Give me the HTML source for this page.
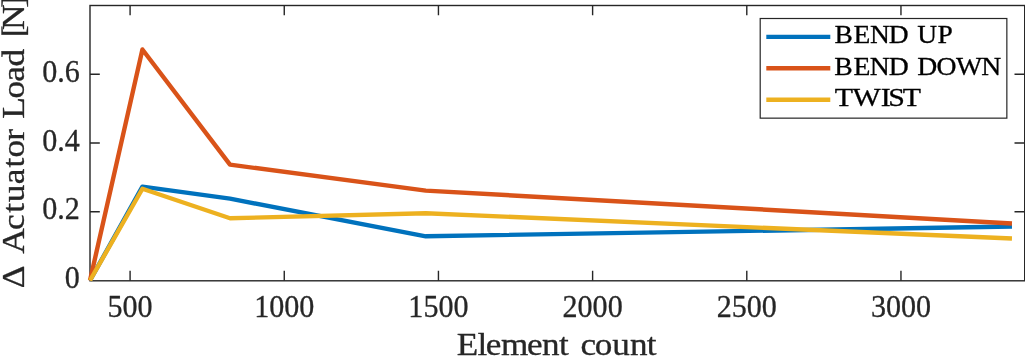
<!DOCTYPE html>
<html><head><meta charset="utf-8"><title>Element count vs Actuator Load</title>
<style>
html,body{margin:0;padding:0;background:#fff;}
svg{display:block}
text{font-family:"Liberation Serif",serif;white-space:pre;stroke-width:0.3px;paint-order:stroke fill;stroke-linejoin:round}
</style></head><body>
<svg width="1025" height="356" viewBox="0 0 1025 356">
<rect width="1025" height="356" fill="#fff"/>
<g stroke="#262626" stroke-width="1.4" fill="none" stroke-linecap="butt">
<rect x="90.0" y="5.5" width="934.7" height="275.3"/>
<path d="M130.09 280.8 V270.7 M130.09 5.5 V15.3"/>
<path d="M284.26 280.8 V270.7 M284.26 5.5 V15.3"/>
<path d="M438.44 280.8 V270.7 M438.44 5.5 V15.3"/>
<path d="M592.61 280.8 V270.7 M592.61 5.5 V15.3"/>
<path d="M746.79 280.8 V270.7 M746.79 5.5 V15.3"/>
<path d="M900.96 280.8 V270.7 M900.96 5.5 V15.3"/>
<path d="M90.0 211.75 H99.8 M1024.7 211.75 H1014.5"/>
<path d="M90.0 143.00 H99.8 M1024.7 143.00 H1014.5"/>
<path d="M90.0 74.25 H99.8 M1024.7 74.25 H1014.5"/>
</g>
<g fill="#262626" stroke="#262626" font-size="32">
<text transform="translate(130.09,316.6) scale(0.94,1)" text-anchor="middle">500</text>
<text transform="translate(284.26,316.6) scale(0.94,1)" text-anchor="middle">1000</text>
<text transform="translate(438.44,316.6) scale(0.94,1)" text-anchor="middle">1500</text>
<text transform="translate(592.61,316.6) scale(0.94,1)" text-anchor="middle">2000</text>
<text transform="translate(746.79,316.6) scale(0.94,1)" text-anchor="middle">2500</text>
<text transform="translate(900.96,316.6) scale(0.94,1)" text-anchor="middle">3000</text>
<text transform="translate(79.9,288.00) scale(0.94,1)" text-anchor="end">0</text>
<text transform="translate(79.9,219.25) scale(0.94,1)" text-anchor="end">0.2</text>
<text transform="translate(79.9,150.50) scale(0.94,1)" text-anchor="end">0.4</text>
<text transform="translate(79.9,81.75) scale(0.94,1)" text-anchor="end">0.6</text>
</g>
<text transform="translate(456.84,355) scale(1.1192,1)" x="0.00 18.52 25.86 39.36 62.80 76.16 91.33 100.05 110.43 123.17 138.81 154.66 169.74" font-size="31.4" fill="#262626" stroke="#262626">Element count</text>
<text transform="translate(24.1,288.28) rotate(-90) scale(1.1259,1)" x="0.00 20.19 30.66 51.83 67.01 76.39 92.46 107.22 116.21 131.00 141.45 150.66 168.48 183.36 196.97 212.67 222.98 229.47 249.16" font-size="31.4" fill="#262626" stroke="#262626">Δ Actuator Load [N]</text>
<polyline points="90.00,280.50 142.42,186.66 229.99,198.69 425.79,236.29 1011.97,226.53" fill="none" stroke="#0072BD" stroke-width="4.4" stroke-linejoin="round" stroke-linecap="butt"/>
<polyline points="90.00,280.50 142.42,49.50 229.99,164.66 425.79,190.61 1011.97,223.44" fill="none" stroke="#D95319" stroke-width="4.4" stroke-linejoin="round" stroke-linecap="butt"/>
<polyline points="90.00,280.50 142.42,188.72 229.99,218.28 425.79,213.19 1011.97,238.56" fill="none" stroke="#EDB120" stroke-width="4.4" stroke-linejoin="round" stroke-linecap="butt"/>
<rect x="760.2" y="18.5" width="246.65" height="99.65" fill="#fff" stroke="#262626" stroke-width="1.2"/>
<path d="M766.3 36.90 H830.3" stroke="#0072BD" stroke-width="4.4" fill="none"/>
<text transform="translate(834.38,43.2) scale(1.0655,1)" x="0.00 18.04 33.33 51.09 69.72 77.67 96.71" font-size="25.8" fill="#000" stroke="#000">BEND UP</text>
<path d="M766.3 68.30 H830.3" stroke="#D95319" stroke-width="4.4" fill="none"/>
<text transform="translate(834.32,74.7) scale(1.0734,1)" x="0.00 17.91 33.08 50.70 69.34 77.23 95.09 113.31 136.92" font-size="25.8" fill="#000" stroke="#000">BEND DOWN</text>
<path d="M766.3 99.70 H830.3" stroke="#EDB120" stroke-width="4.4" fill="none"/>
<text transform="translate(834.87,106.1) scale(1.1576,1)" x="0.00 15.27 39.69 46.11 58.61" font-size="25.8" fill="#000" stroke="#000">TWIST</text>
</svg></body></html>
